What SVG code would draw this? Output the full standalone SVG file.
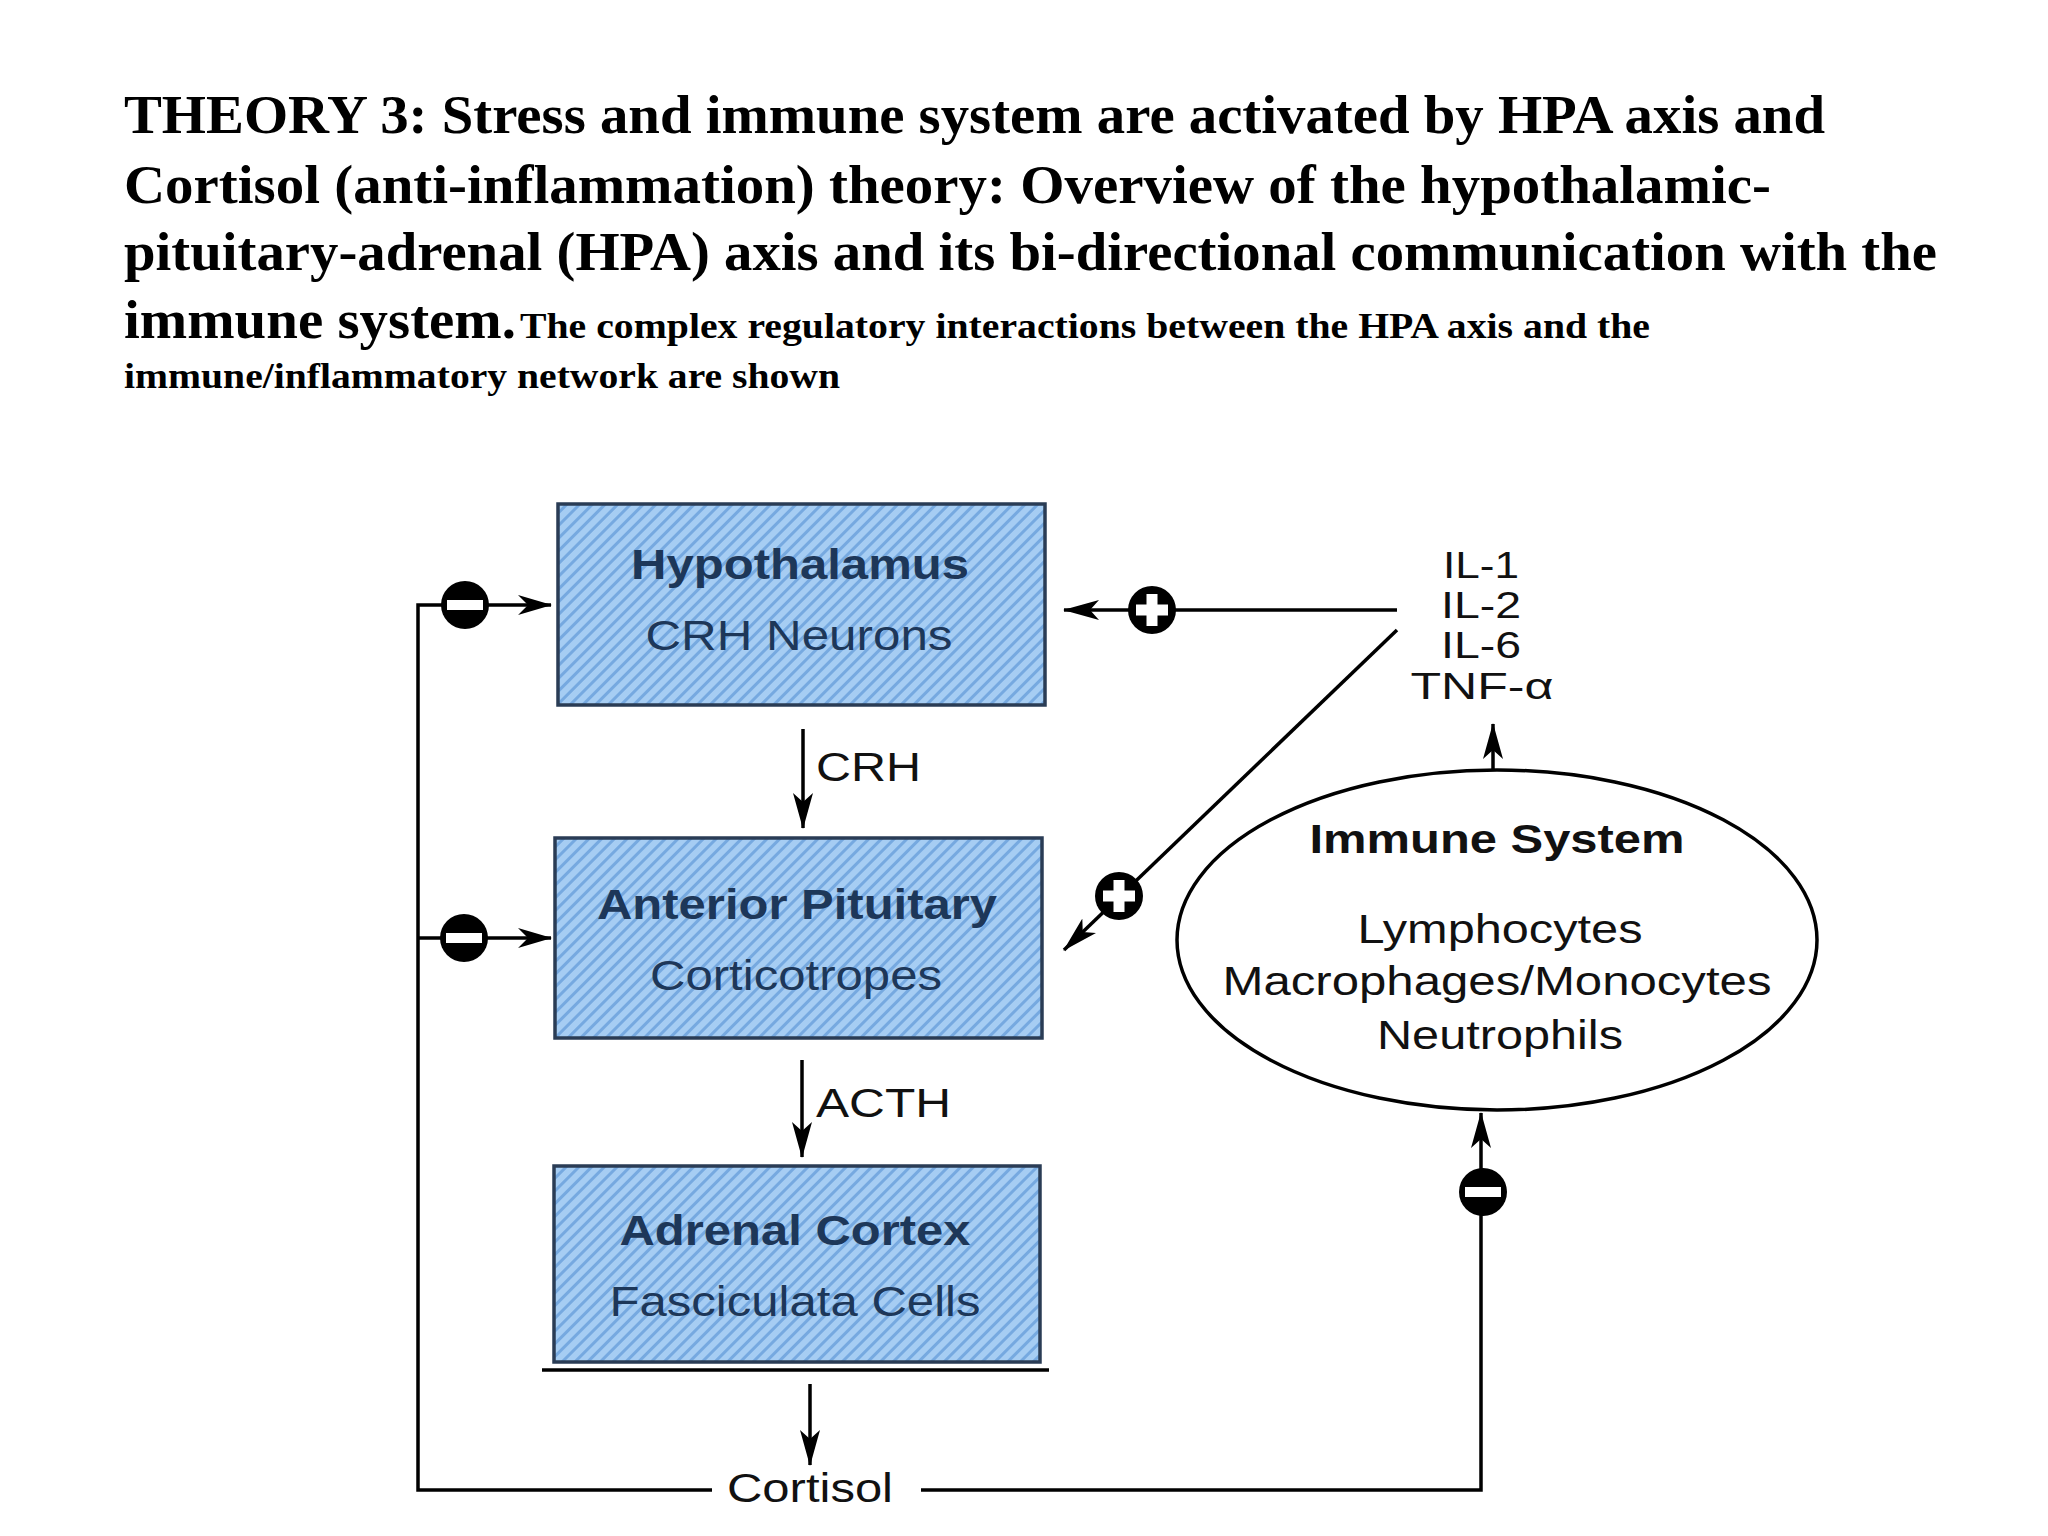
<svg xmlns="http://www.w3.org/2000/svg" width="2048" height="1536" viewBox="0 0 2048 1536">
  <defs>
    <pattern id="hatch" patternUnits="userSpaceOnUse" width="9" height="9" patternTransform="rotate(45)">
      <rect width="9" height="9" fill="#a6cdf3"/>
      <rect width="3" height="9" fill="#76a9e0"/>
    </pattern>
    <marker id="arr" viewBox="0 0 34 20" refX="33" refY="10" markerWidth="34" markerHeight="20" markerUnits="userSpaceOnUse" orient="auto">
      <path d="M0,0 L34,10 L0,20 L10,10 z" fill="#000"/>
    </marker>
    <marker id="arrL" viewBox="0 0 36 20" refX="35" refY="10" markerWidth="36" markerHeight="20" markerUnits="userSpaceOnUse" orient="auto">
      <path d="M0,0 L36,10 L0,20 L9,10 z" fill="#000"/>
    </marker>
    <g id="minus">
      <circle r="24" fill="#000"/>
      <rect x="-18" y="-5" width="36" height="10" fill="#fff"/>
    </g>
    <g id="plus">
      <circle r="24" fill="#000"/>
      <rect x="-16" y="-5.5" width="32" height="11" fill="#fff"/>
      <rect x="-5.5" y="-16" width="11" height="32" fill="#fff"/>
    </g>
  </defs>
  <style>
    .title { font-family: "Liberation Serif", "Times New Roman", serif; font-weight: bold; fill: #000; }
    .box { fill: url(#hatch); stroke: #2a3c55; stroke-width: 3.5; }
    .lbl { font-family: "Liberation Sans", Arial, sans-serif; font-size: 42px; fill: #1d3759; text-anchor: middle; }
    .b { font-weight: bold; }
    .t { font-family: "Liberation Sans", Arial, sans-serif; font-size: 40px; fill: #111; }
    .ck { font-size: 36px; }
    .ln { stroke: #000; stroke-width: 3.5; fill: none; }
  </style>
  <rect width="2048" height="1536" fill="#fff"/>

  <g id="title">
    <text class="title" x="124" y="133" font-size="54" textLength="1701" lengthAdjust="spacingAndGlyphs">THEORY 3: Stress and immune system are activated by HPA axis and</text>
    <text class="title" x="124" y="203" font-size="54" textLength="1647" lengthAdjust="spacingAndGlyphs">Cortisol (anti-inflammation) theory: Overview of the hypothalamic-</text>
    <text class="title" x="124" y="270" font-size="54" textLength="1813" lengthAdjust="spacingAndGlyphs">pituitary-adrenal (HPA) axis and its bi-directional communication with the</text>
    <text class="title" x="124" y="338" font-size="54" textLength="392" lengthAdjust="spacingAndGlyphs">immune system.</text>
    <text class="title" x="520" y="338" font-size="36" textLength="1130" lengthAdjust="spacingAndGlyphs">The complex regulatory interactions between the HPA axis and the</text>
    <text class="title" x="124" y="388" font-size="36" textLength="716" lengthAdjust="spacingAndGlyphs">immune/inflammatory network are shown</text>
  </g>

  <g id="hypothalamus">
    <rect class="box" x="558" y="504" width="487" height="201"/>
    <text class="lbl b" x="800" y="579" textLength="338" lengthAdjust="spacingAndGlyphs">Hypothalamus</text>
    <text class="lbl" x="799" y="650" textLength="307" lengthAdjust="spacingAndGlyphs">CRH Neurons</text>
  </g>

  <g id="pituitary">
    <rect class="box" x="555" y="838" width="487" height="200"/>
    <text class="lbl b" x="797" y="919" textLength="400" lengthAdjust="spacingAndGlyphs">Anterior Pituitary</text>
    <text class="lbl" x="796" y="990" textLength="292" lengthAdjust="spacingAndGlyphs">Corticotropes</text>
  </g>

  <g id="adrenal">
    <rect class="box" x="554" y="1166" width="486" height="196"/>
    <text class="lbl b" x="795" y="1245" textLength="351" lengthAdjust="spacingAndGlyphs">Adrenal Cortex</text>
    <text class="lbl" x="795" y="1316" textLength="371" lengthAdjust="spacingAndGlyphs">Fasciculata Cells</text>
  </g>

  <g id="immune">
    <ellipse cx="1497" cy="940" rx="320" ry="170" fill="#fff" stroke="#000" stroke-width="3.5"/>
    <text class="t b" x="1497" y="853" text-anchor="middle" textLength="375" lengthAdjust="spacingAndGlyphs">Immune System</text>
    <text class="t" x="1500" y="943" text-anchor="middle" textLength="285" lengthAdjust="spacingAndGlyphs">Lymphocytes</text>
    <text class="t" x="1497" y="995" text-anchor="middle" textLength="549" lengthAdjust="spacingAndGlyphs">Macrophages/Monocytes</text>
    <text class="t" x="1500" y="1049" text-anchor="middle" textLength="246" lengthAdjust="spacingAndGlyphs">Neutrophils</text>
  </g>

  <g id="cytokines">
    <text class="t ck" x="1481" y="578" text-anchor="middle" textLength="76" lengthAdjust="spacingAndGlyphs">IL-1</text>
    <text class="t ck" x="1481" y="618" text-anchor="middle" textLength="80" lengthAdjust="spacingAndGlyphs">IL-2</text>
    <text class="t ck" x="1481" y="658" text-anchor="middle" textLength="80" lengthAdjust="spacingAndGlyphs">IL-6</text>
    <text class="t ck" x="1482" y="699" text-anchor="middle" textLength="143" lengthAdjust="spacingAndGlyphs">TNF-α</text>
  </g>

  <g id="cortisol">
    <text class="t" x="810" y="1502" text-anchor="middle" font-size="44" textLength="166" lengthAdjust="spacingAndGlyphs">Cortisol</text>
  </g>

  <g id="connectors">
    <line class="ln" x1="803" y1="729" x2="803" y2="828" marker-end="url(#arrL)" stroke-width="3"/>
    <text class="t" x="816" y="781" font-size="42" textLength="105" lengthAdjust="spacingAndGlyphs">CRH</text>
    <line class="ln" x1="802" y1="1060" x2="802" y2="1157" marker-end="url(#arrL)" stroke-width="3"/>
    <text class="t" x="816" y="1117" font-size="42" textLength="135" lengthAdjust="spacingAndGlyphs">ACTH</text>
    <line class="ln" x1="542" y1="1370" x2="1049" y2="1370" stroke-width="4"/>
    <line class="ln" x1="810" y1="1384" x2="810" y2="1465" marker-end="url(#arrL)"/>

    <polyline class="ln" points="712,1490 418,1490 418,605 551,605" marker-end="url(#arr)"/>
    <line class="ln" x1="418" y1="938" x2="551" y2="938" marker-end="url(#arr)"/>
    <polyline class="ln" points="921,1490 1481,1490 1481,1113" marker-end="url(#arrL)"/>

    <line class="ln" x1="1397" y1="610" x2="1064" y2="610" marker-end="url(#arrL)"/>
    <line class="ln" x1="1397" y1="630" x2="1064" y2="950" marker-end="url(#arrL)"/>

    <line class="ln" x1="1493" y1="771" x2="1493" y2="724" marker-end="url(#arrL)"/>

    <use href="#minus" x="465" y="605"/>
    <use href="#minus" x="464" y="938"/>
    <use href="#minus" x="1483" y="1192"/>
    <use href="#plus" x="1152" y="610"/>
    <use href="#plus" x="1119" y="896"/>
  </g>
</svg>
